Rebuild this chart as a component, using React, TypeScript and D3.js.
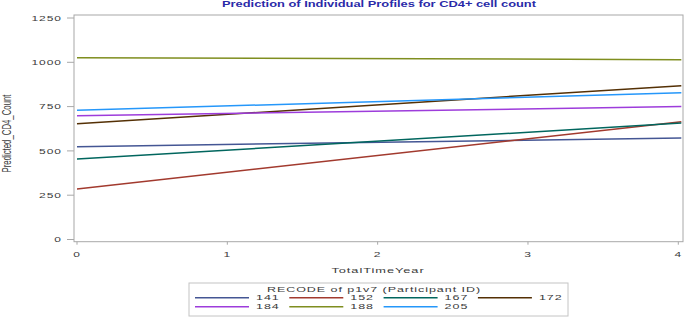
import React from "react";
import * as d3 from "d3";

const participants = ["141", "152", "167", "172", "184", "188", "205"];
const colors = ["#445694", "#A23A2E", "#01665E", "#543005", "#9D3CDB", "#7F8E1F", "#2597FA"];
const timePoints = [0, 4.02];
const startValues = [524, 285, 454, 653, 699, 1026, 729];
const endValues = [573, 665, 657, 868, 750, 1015, 828];
const xTicks = [0, 1, 2, 3, 4];
const yTicks = [0, 250, 500, 750, 1000, 1250];

const W = 685;
const H = 317;
const FONT = "'Liberation Sans', Arial, Helvetica, sans-serif";
const SX = 1.6;
const AXIS = "#a8a8a8";
const TXT = "#3a3a3a";

function T(props: any) {
  const { x, y, size = 7.5, anchor = "start", rotate = false, fill = TXT, weight = "normal", children, sx = SX, ls = 0.6 } = props;
  return (
    <text
      transform={`translate(${x},${y}) scale(${sx},1)${rotate ? " rotate(-90)" : ""}`}
      fontFamily={FONT}
      fontSize={size}
      fontWeight={weight}
      textAnchor={anchor}
      letterSpacing={ls}
      fill={fill}
    >
      {children}
    </text>
  );
}

export default function App() {
  const frame = { left: 74, right: 683, top: 15, bottom: 241.7 };
  const x = d3.scaleLinear().domain([0, 4]).range([77, 678.3]);
  const y = d3.scaleLinear().domain([0, 1250]).range([239.5, 18]);
  const line = d3
    .line<[number, number]>()
    .x((d) => x(d[0]))
    .y((d) => y(d[1]));

  const series = participants.map((p, i) => ({
    id: p,
    color: colors[i],
    pts: [
      [timePoints[0], startValues[i]],
      [timePoints[1], endValues[i]],
    ] as [number, number][],
  }));

  const legendRows = [
    [0, 1, 2, 3],
    [4, 5, 6],
  ];

  return (
    <svg
      width={W}
      height={H}
      style={{ position: "absolute", left: 0, top: 0, background: "#fff" }}
    >
      <rect x={0} y={0} width={W} height={H} fill="#fff" />
      {/* title */}
      <text
        x={222}
        y={7}
        fontFamily={FONT}
        fontSize={9}
        fontWeight="bold"
        fill="#2a2aa8"
        textLength={314}
        lengthAdjust="spacingAndGlyphs"
      >
        Prediction of Individual Profiles for CD4+ cell count
      </text>

      <defs>
        <clipPath id="plotclip">
          <rect x={frame.left} y={frame.top} width={frame.right - frame.left} height={frame.bottom - frame.top} />
        </clipPath>
      </defs>

      {/* frame */}
      <rect
        x={frame.left}
        y={frame.top}
        width={frame.right - frame.left}
        height={frame.bottom - frame.top}
        fill="none"
        stroke={AXIS}
        strokeWidth={1}
      />

      {/* y ticks */}
      {yTicks.map((t) => (
        <g key={"y" + t}>
          <line x1={67} x2={frame.left} y1={y(t)} y2={y(t)} stroke={AXIS} strokeWidth={1} />
          <T x={62} y={y(t) + 2.6} anchor="end">
            {t}
          </T>
        </g>
      ))}
      {/* x ticks */}
      {xTicks.map((t) => (
        <g key={"x" + t}>
          <line x1={x(t)} x2={x(t)} y1={frame.bottom} y2={frame.bottom + 3} stroke={AXIS} strokeWidth={1} />
          <T x={x(t)} y={256.5} anchor="middle">
            {t}
          </T>
        </g>
      ))}

      {/* axis labels */}
      <T x={378} y={273} anchor="middle" size={8}>
        TotalTimeYear
      </T>
      <T x={10.5} y={133.5} anchor="middle" size={7.8} rotate sx={1.55} ls={0}>
        Predicted_CD4_Count
      </T>

      {/* series lines */}
      <g clipPath="url(#plotclip)">
        {series.map((s) => (
          <path key={s.id} d={line(s.pts) || ""} fill="none" stroke={s.color} strokeWidth={1.5} />
        ))}
      </g>

      {/* legend */}
      <rect x={189} y={283} width={379} height={33} fill="none" stroke="#c4c4c4" strokeWidth={1} />
      <T x={374} y={291.5} anchor="middle" size={7.8}>
        RECODE of p1v7 (Participant ID)
      </T>
      {legendRows.map((row, r) =>
        row.map((idx, c) => {
          const lx = 195 + c * 94.3;
          const ly = 297.7 + r * 9;
          return (
            <g key={"lg" + idx}>
              <line x1={lx} x2={lx + 54} y1={ly} y2={ly} stroke={colors[idx]} strokeWidth={1.5} />
              <T x={lx + 61} y={ly + 2.7} size={7.8}>
                {participants[idx]}
              </T>
            </g>
          );
        })
      )}
    </svg>
  );
}
